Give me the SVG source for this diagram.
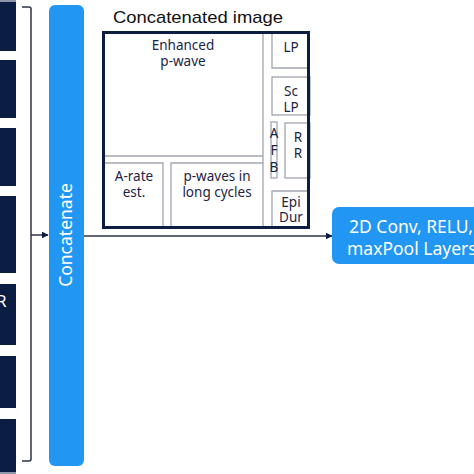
<svg xmlns="http://www.w3.org/2000/svg" width="474" height="474" viewBox="0 0 474 474">
<style>
.dark{fill:#0b1d42}
.cell{fill:none;stroke:#a3a6b2;stroke-width:1.3}
.lbl{font-family:"Noto Sans","Liberation Sans",sans-serif;font-size:13.5px;fill:#1c2444;text-anchor:middle}
.blue{fill:#2196f3}
.wt{font-family:"Noto Sans","Liberation Sans",sans-serif;fill:#ffffff}
.conn{fill:none;stroke:#2e3347;stroke-width:1.5}
</style>
<defs>
<marker id="ah" viewBox="0 0 10 10" refX="9" refY="5" markerWidth="7" markerHeight="7" markerUnits="userSpaceOnUse" orient="auto">
<path d="M0,0 L10,5 L0,10 z" fill="#0b1d42"/>
</marker>
</defs>
<rect width="474" height="474" fill="#ffffff"/>
<g id="inputs">
<rect x="0" y="0" width="16" height="2" fill="#8d95a8"/>
<rect x="0" y="472" width="16" height="2" fill="#8d95a8"/>
<rect class="dark" x="0" y="2" width="16" height="49"/>
<rect class="dark" x="0" y="60" width="16" height="58"/>
<rect class="dark" x="0" y="128" width="16" height="58"/>
<rect class="dark" x="0" y="196" width="16" height="77"/>
<rect class="dark" x="0" y="284" width="16" height="61"/>
<rect class="dark" x="0" y="356" width="16" height="52"/>
<rect class="dark" x="0" y="419" width="16" height="53"/>
<text x="6.5" y="307" text-anchor="end" font-family="Noto Sans, Liberation Sans, sans-serif" font-size="16" fill="#ffffff">R</text>
</g>
<g id="connectors">
<path class="conn" d="M22,7 H29 Q31,7 31,9 V459 Q31,461 29,461 H22"/>
<path class="conn" d="M31,235 H48" marker-end="url(#ah)"/>
<path class="conn" d="M84,236 H332" marker-end="url(#ah)"/>
</g>
<g id="concatenate">
<rect class="blue" x="49" y="5" width="35" height="461" rx="6"/>
<text class="wt" x="0" y="0" font-size="17.5" text-anchor="middle" transform="translate(72,235) rotate(-90)">Concatenate</text>
</g>
<g id="concatenated-image">
<text x="113" y="23" font-family="Liberation Sans, Arial, sans-serif" font-size="17" fill="#111111" textLength="170" lengthAdjust="spacingAndGlyphs">Concatenated image</text>
<g id="enhanced">
<path class="cell" d="M103,156 H263"/>
<text class="lbl" x="183" y="50">Enhanced</text>
<text class="lbl" x="183" y="66">p-wave</text>
</g>
<path class="cell" d="M263,33 V228"/>
<g id="arate">
<path class="cell" d="M103,163 H163 V228"/>
<text class="lbl" x="134" y="181">A-rate</text>
<text class="lbl" x="134" y="197">est.</text>
</g>
<g id="pwaves">
<path class="cell" d="M171,228 V163 H263"/>
<text class="lbl" x="217" y="181">p-waves in</text>
<text class="lbl" x="217" y="197">long cycles</text>
</g>
<g id="lp">
<path class="cell" d="M272,33 V68 H310"/>
<text class="lbl" x="291" y="52">LP</text>
</g>
<g id="sclp">
<rect class="cell" x="272" y="77" width="38" height="38"/>
<text class="lbl" x="291" y="96">Sc</text>
<text class="lbl" x="291" y="112">LP</text>
</g>
<g id="afb">
<rect class="cell" x="271" y="122" width="6" height="56"/>
<text class="lbl" x="274" y="138">A</text>
<text class="lbl" x="274" y="155">F</text>
<text class="lbl" x="274" y="172">B</text>
</g>
<g id="rr">
<rect class="cell" x="285" y="123" width="25" height="55"/>
<text class="lbl" x="298" y="142">R</text>
<text class="lbl" x="298" y="158">R</text>
</g>
<g id="epidur">
<path class="cell" d="M272,228 V191 H310"/>
<text class="lbl" x="291" y="207" font-size="12">Epi</text>
<text class="lbl" x="291" y="222" font-size="12">Dur</text>
</g>
<rect x="103.5" y="32.5" width="205" height="195" fill="none" stroke="#0b1d42" stroke-width="3"/>
</g>
<g id="conv">
<rect class="blue" x="332" y="207" width="170" height="57" rx="7"/>
<text class="wt" x="349" y="233" font-size="17.5">2D Conv, RELU,</text>
<text class="wt" x="347" y="255" font-size="17.5">maxPool Layers</text>
</g>
</svg>
